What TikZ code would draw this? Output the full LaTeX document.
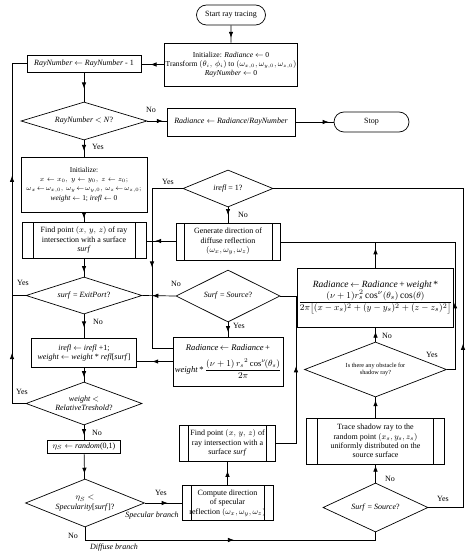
\documentclass[tikz,border=0pt]{standalone}
\usepackage{amsmath}
\usepackage{fontspec}
\setmainfont{Liberation Serif}
\usetikzlibrary{shapes.geometric,shapes.misc,arrows.meta,decorations.markings}
\begin{document}
\begin{tikzpicture}[x=1pt,y=-1pt,
  every node/.style={font=\fontsize{8}{9.4}\selectfont},
  ln/.style={line width=0.7pt},
  box/.style={draw, ln, align=center, inner sep=1pt},
  sz/.style 2 args={minimum width=#1pt, minimum height=#2pt},
  pp/.style={box, path picture={\draw[line width=0.7pt] ([xshift=#1pt]path picture bounding box.north west) -- ([xshift=#1pt]path picture bounding box.south west) ([xshift=-#1pt]path picture bounding box.north east) -- ([xshift=-#1pt]path picture bounding box.south east);}},
  term/.style={draw, ln, rounded rectangle, inner sep=1pt},
  dia/.style={draw, ln, diamond, inner sep=0pt, align=center},
  mid/.style={postaction={decorate,decoration={markings,mark=at position #1 with {\arrow{Latex[length=6pt,width=4.5pt]}}}}},
  lab/.style={inner sep=0pt},
  it/.style={font=\fontsize{8}{9.4}\selectfont\itshape, inner sep=0pt},
]
\useasboundingbox (0,0) rectangle (474,556);
\fill[white] (0,0) rectangle (474,556);

% ---------- nodes ----------
\node[term, sz={71}{20}] (start) at (231,15) {Start ray tracing};
\node[box, sz={128}{43}, font=\fontsize{7.6}{9.2}\selectfont] (init) at (231,64.5) {Initialize: \textit{Radiance} $\leftarrow$ 0\\ Transform $(\theta_i,\,\phi_i)$ to $(\omega_{x,0},\omega_{y,0},\omega_{z,0})$\\ \textit{RayNumber} $\leftarrow$ 0};
\node[box, sz={114}{17}] (rnm1) at (84,63.5) {\textit{RayNumber} $\leftarrow$ \textit{RayNumber} - 1};
\node[dia, minimum width=126pt, minimum height=38pt, aspect=3.3] (dN) at (84,121) {\textit{RayNumber} $<$ \textit{N}?};
\node[box, sz={128}{28}] (rdiv) at (231,122) {\textit{Radiance} $\leftarrow$ \textit{Radiance}/\textit{RayNumber}};
\node[term, sz={77}{20}] (stop) at (371.5,122) {Stop};
\node[box, sz={126}{55}, font=\fontsize{7.4}{9.2}\selectfont] (initz) at (84,184.5) {Initialize:\\ $x\leftarrow x_0,\ y\leftarrow y_0,\ z\leftarrow z_0;$\\ $\omega_x\!\leftarrow\!\omega_{x,0},\,\omega_y\!\leftarrow\!\omega_{y,0},\,\omega_z\!\leftarrow\!\omega_{z,0};$\\ \textit{weight} $\leftarrow$ 1; \textit{irefl} $\leftarrow$ 0};
\node[pp=11, sz={124}{36}] (find1) at (84,240) {Find point $(x,\,y,\,z)$ of ray\\ intersection with a surface\\ \textit{surf}};
\node[dia, minimum width=116pt, minimum height=37pt, aspect=3.1] (dExit) at (84,295.5) {\textit{surf} = \textit{ExitPort}?};
\node[box, sz={105}{29}] (refl) at (84,353) {\textit{irefl} $\leftarrow$ \textit{irefl} +1;\\ \textit{weight} $\leftarrow$ \textit{weight} * \textit{refl}[\textit{surf}]};
\node[dia, minimum width=116pt, minimum height=43pt, aspect=2.7] (dW) at (84,403.5) {\textit{weight} $<$\\ \textit{RelativeTreshold}?};
\node[box, sz={73}{13}] (eta) at (84,446.5) {$\eta_S\leftarrow$ \textit{random}(0,1)};
\node[dia, minimum width=119pt, minimum height=48pt, aspect=2.5] (dSpec) at (85,503) {$\eta_S<$\\ \textit{Specularity}[\textit{surf}]?};
\node[pp=9, sz={91}{35}] (comp) at (227.5,503) {Compute direction\\ of specular\\ reflection $(\omega_x,\omega_y,\omega_z)$};
\node[pp=9, sz={96}{36}] (find2) at (227.5,443) {Find point $(x,\,y,\,z)$ of\\ ray intersection with a\\ surface \textit{surf}};
\node[pp=11, sz={138}{46}] (trace) at (375.5,441) {Trace shadow ray to the\\ random point $(x_s,y_s,z_s)$\\ uniformly distributed on the\\ source surface};
\node[dia, minimum width=105pt, minimum height=49pt, aspect=2.1] (dSrc2) at (375.5,507.5) {\textit{Surf} = \textit{Source}?};
\node[dia, minimum width=142pt, minimum height=55pt, aspect=2.6, font=\fontsize{6.2}{7.4}\selectfont] (dObs) at (375.5,369.5) {Is there any obstacle for\\ shadow ray?};
\node[box, sz={145}{59}, font=\fontsize{9.5}{11}\selectfont] (radF) at (375.5,297.5) {\textit{Radiance}\,$\leftarrow$ \textit{Radiance}\,+\,\textit{weight}\,*\\[-1pt] $\dfrac{(\nu+1)r_s^2\cos^\nu(\theta_s)\cos(\theta)}{2\pi\big[(x-x_s)^2+(y-y_s)^2+(z-z_s)^2\big]}$};
\node[dia, minimum width=104pt, minimum height=52pt, aspect=2.0] (dSrc1) at (228,296) {\textit{Surf} = \textit{Source}?};
\node[box, sz={110}{49}, font=\fontsize{8.6}{10}\selectfont] (radP) at (228,361.5) {\textit{Radiance}\,$\leftarrow$ \textit{Radiance}\,+\\[7pt] \textit{weight}\,*\,$\dfrac{(\nu+1)\,{r_s}^{2}\cos^{\nu}\!(\theta_s)}{2\pi}$};
\node[dia, minimum width=90pt, minimum height=37pt, aspect=2.4] (dRefl) at (228,188.5) {\textit{irefl} = 1?};
\node[pp=8, sz={104}{37}] (gen) at (228,241.5) {Generate direction of\\ diffuse reflection\\ $(\omega_x,\omega_y,\omega_z)$};

% ---------- helper coordinates ----------
\coordinate (L2) at (12,63.5);
\coordinate (R1) at (296,443);
\coordinate (Y1) at (152,188.5);
\coordinate (T1) at (375.5,242);
\coordinate (O1) at (455,369.5);
\coordinate (S1) at (463,507.5);
\coordinate (D1) at (85,540);

% ---------- connectors ----------
\draw[ln, mid=0.72] (start) -- (init);
\draw[ln, mid=0.6] (init.west) -- (init.west -| rnm1.east);
\draw[ln, mid=0.55] (rnm1) -- (dN);
\draw[ln, mid=0.8] (dN.east) -- (dN.east -| rdiv.west);
\draw[ln, mid=0.87] (rdiv.east) -- (rdiv.east -| stop.west);
\draw[ln, mid=0.65] (dN) -- (initz);
\draw[ln, mid=0.65] (initz) -- (find1);
\draw[ln, mid=0.75] (find1) -- (dExit);
\draw[ln, mid=0.55] (dExit) -- (refl);
\draw[ln, mid=0.68] (refl) -- (dW);
\draw[ln, mid=0.68] (dW) -- (eta);
\draw[ln, mid=0.8] (eta) -- (dSpec);
\draw[ln, mid=0.62] (dSpec.east) -- (dSpec.east -| comp.west);
\draw[ln, mid=0.6] (comp) -- (find2);
\draw[ln, mid=0.53] (find2.east) -- (R1) -- (R1 |- dSrc1.east) -- (dSrc1.east);
\draw[ln, mid=0.68] (dSrc1) -- (radP);
\draw[ln, mid=0.7] (dSrc1.west) -- (dExit.east);
\draw[ln, mid=0.57] (radP.west) -- (radP.west -| refl.east);
\draw[ln, mid=0.52] (dRefl.west) -- (Y1) -- (Y1 |- 0,348) -- (radP.west |- 0,348);
\draw[ln, mid=0.5] (dRefl) -- (gen);
\draw[ln, mid=0.7] (gen.west |- 0,241) -- (find1.east |- 0,241);
\draw[ln, mid=0.16] (radF.north) -- (T1) -- (T1 -| gen.east);
\draw[ln, mid=0.35] (dObs.east) -- (O1) -- (O1 |- T1) -- (T1);
\draw[ln, mid=0.7] (dObs) -- (radF);
\draw[ln, mid=0.86] (trace) -- (dObs);
\draw[ln, mid=0.93] (dSrc2) -- (trace);
\draw[ln, mid=0.365] (dSrc2.east) -- (S1) -- (S1 |- dRefl.east) -- (dRefl.east);
\draw[ln, mid=0.52] (dSpec.south) -- (D1) -- (D1 -| dSrc2.south) -- (dSrc2.south);
\draw[ln, postaction={decorate,decoration={markings,
   mark=at position 0.174 with {\arrow{Latex[length=6pt,width=4.5pt]}},
   mark=at position 0.655 with {\arrow{Latex[length=6pt,width=4.5pt]}}}}]
   (dW.west) -- (dW.west -| L2) -- (L2) -- (rnm1.west);
\draw[ln] (dExit.west) -- (dExit.west -| L2);

% ---------- labels ----------
\node[lab] at (151,110) {No};
\node[lab] at (98,147) {Yes};
\node[lab] at (168,182) {Yes};
\node[lab] at (243,215) {No};
\node[lab] at (23,283) {Yes};
\node[lab] at (98,322) {No};
\node[lab] at (176,284) {No};
\node[lab] at (239,326) {Yes};
\node[lab] at (387,336) {No};
\node[lab] at (432,355) {Yes};
\node[lab] at (22,392) {Yes};
\node[lab] at (97,433) {No};
\node[lab] at (161,493) {Yes};
\node[it] at (152,516) {Specular branch};
\node[lab] at (73,536) {No};
\node[it] at (114,548) {Diffuse branch};
\node[lab] at (390,479) {No};
\node[lab] at (443,499) {Yes};
\end{tikzpicture}
\end{document}
